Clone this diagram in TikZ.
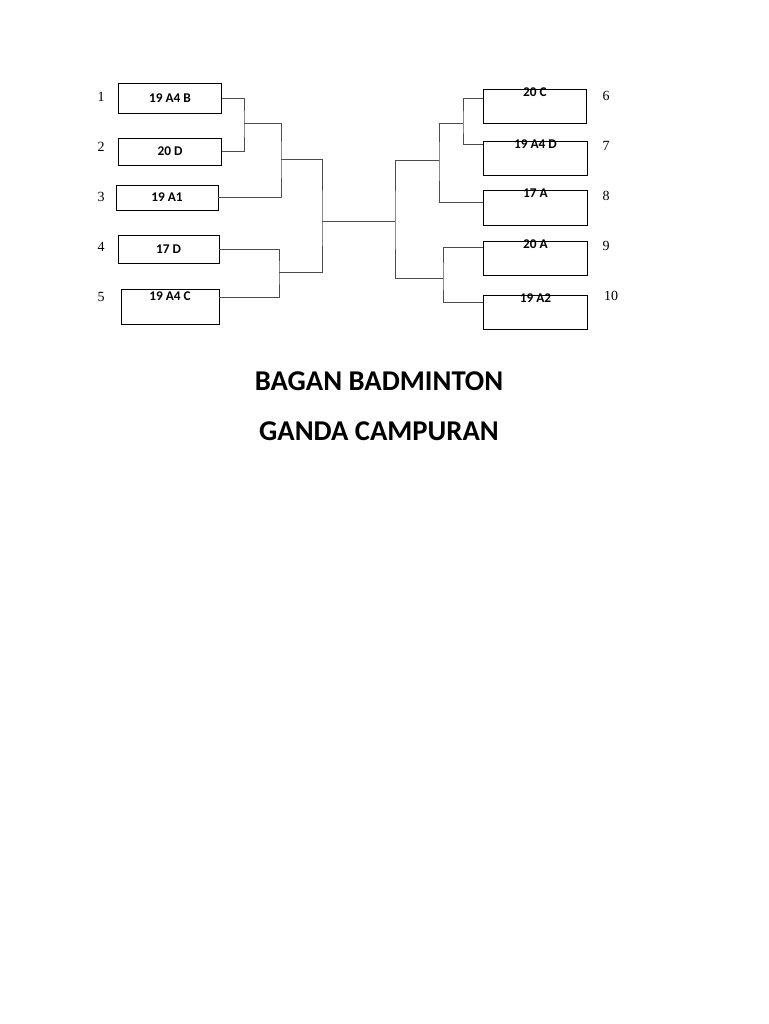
\documentclass[tikz,border=0pt]{standalone}
\usepackage{fontspec}
\setmainfont{Carlito}
\newfontfamily\numfont{Liberation Serif}
\usepackage{tikz}
\usetikzlibrary{positioning}

\begin{document}
\begin{tikzpicture}[
  x=0.75pt, y=-0.75pt,
  box/.style={draw, line width=0.6pt, inner sep=0pt, minimum width=77.5pt, minimum height=22pt, font=\bfseries\fontsize{10}{12}\selectfont},
  topbox/.style={box, minimum height=25.5pt, text height=5.8pt, text depth=19.7pt},
  num/.style={font=\numfont\fontsize{10.5}{12}\selectfont},
  title/.style={font=\bfseries\fontsize{21.5}{25}\selectfont},
  line/.style={draw=black!70, line width=0.6pt}
]
\useasboundingbox[fill=white] (0,0) rectangle (768,1024);
\node[box, minimum height=22.5pt] (b1) at (170,98) {19 A4 B};
\node[box, minimum height=20.25pt] (b2) at (170,151.5) {20 D};
\node[box, minimum width=76.5pt, minimum height=18.75pt] (b3) at (167,197.5) {19 A1};
\node[box, minimum width=75.75pt, minimum height=21pt] (b4) at (168.5,249) {17 D};
\node[box, minimum width=73.5pt, minimum height=26.25pt, text height=8.5pt, text depth=17.75pt] (b5) at (170,306.5) {19 A4 C};
\node[topbox] (b6) at (535,106) {20 C};
\node[topbox] (b7) at (535.5,158) {19 A4 D};
\node[topbox, minimum height=26.25pt, text depth=20.45pt] (b8) at (535.5,207.5) {17 A};
\node[topbox] (b9) at (535.5,258) {20 A};
\node[topbox] (b10) at (535.5,312) {19 A2};
\node[num] (n1) at (101,97) {1};
\node[num] (n2) at (101,147) {2};
\node[num] (n3) at (101,197) {3};
\node[num] (n4) at (101,247) {4};
\node[num] (n5) at (101,297) {5};
\node[num] (n6) at (606,96) {6};
\node[num] (n7) at (606,146) {7};
\node[num] (n8) at (606,196) {8};
\node[num] (n9) at (606,246) {9};
\node[num] (n10) at (611,296) {10};
\coordinate (j12) at (244,123);
\coordinate (j123) at (281,159);
\coordinate (j45) at (279,272);
\coordinate (jL) at (322,221);
\coordinate (j67) at (463,123);
\coordinate (j678) at (439,160);
\coordinate (j910) at (443,278);
\coordinate (jR) at (395,221);
\draw[line] (b1.east) -| (j12) |- (b2.east);
\draw[line] (j12) -| (j123) |- (b3.east);
\draw[line] (b4.east) -| (j45) |- ([yshift=7pt]b5.east);
\draw[line] (j123) -| (jL) |- (j45);
\draw[line] (jL) -- (jR);
\draw[line] ([yshift=6pt]b6.west) -| (j67) |- ([yshift=10.5pt]b7.west);
\draw[line] (j67) -| (j678) |- ([yshift=4pt]b8.west);
\draw[line] ([yshift=8pt]b9.west) -| (j910) |- ([yshift=7pt]b10.west);
\draw[line] (j678) -| (jR) |- (j910);
\node[title] (t1) at (379,381) {BAGAN BADMINTON};
\node[title] (t2) at (379,431) {GANDA CAMPURAN};
\end{tikzpicture}
\end{document}
